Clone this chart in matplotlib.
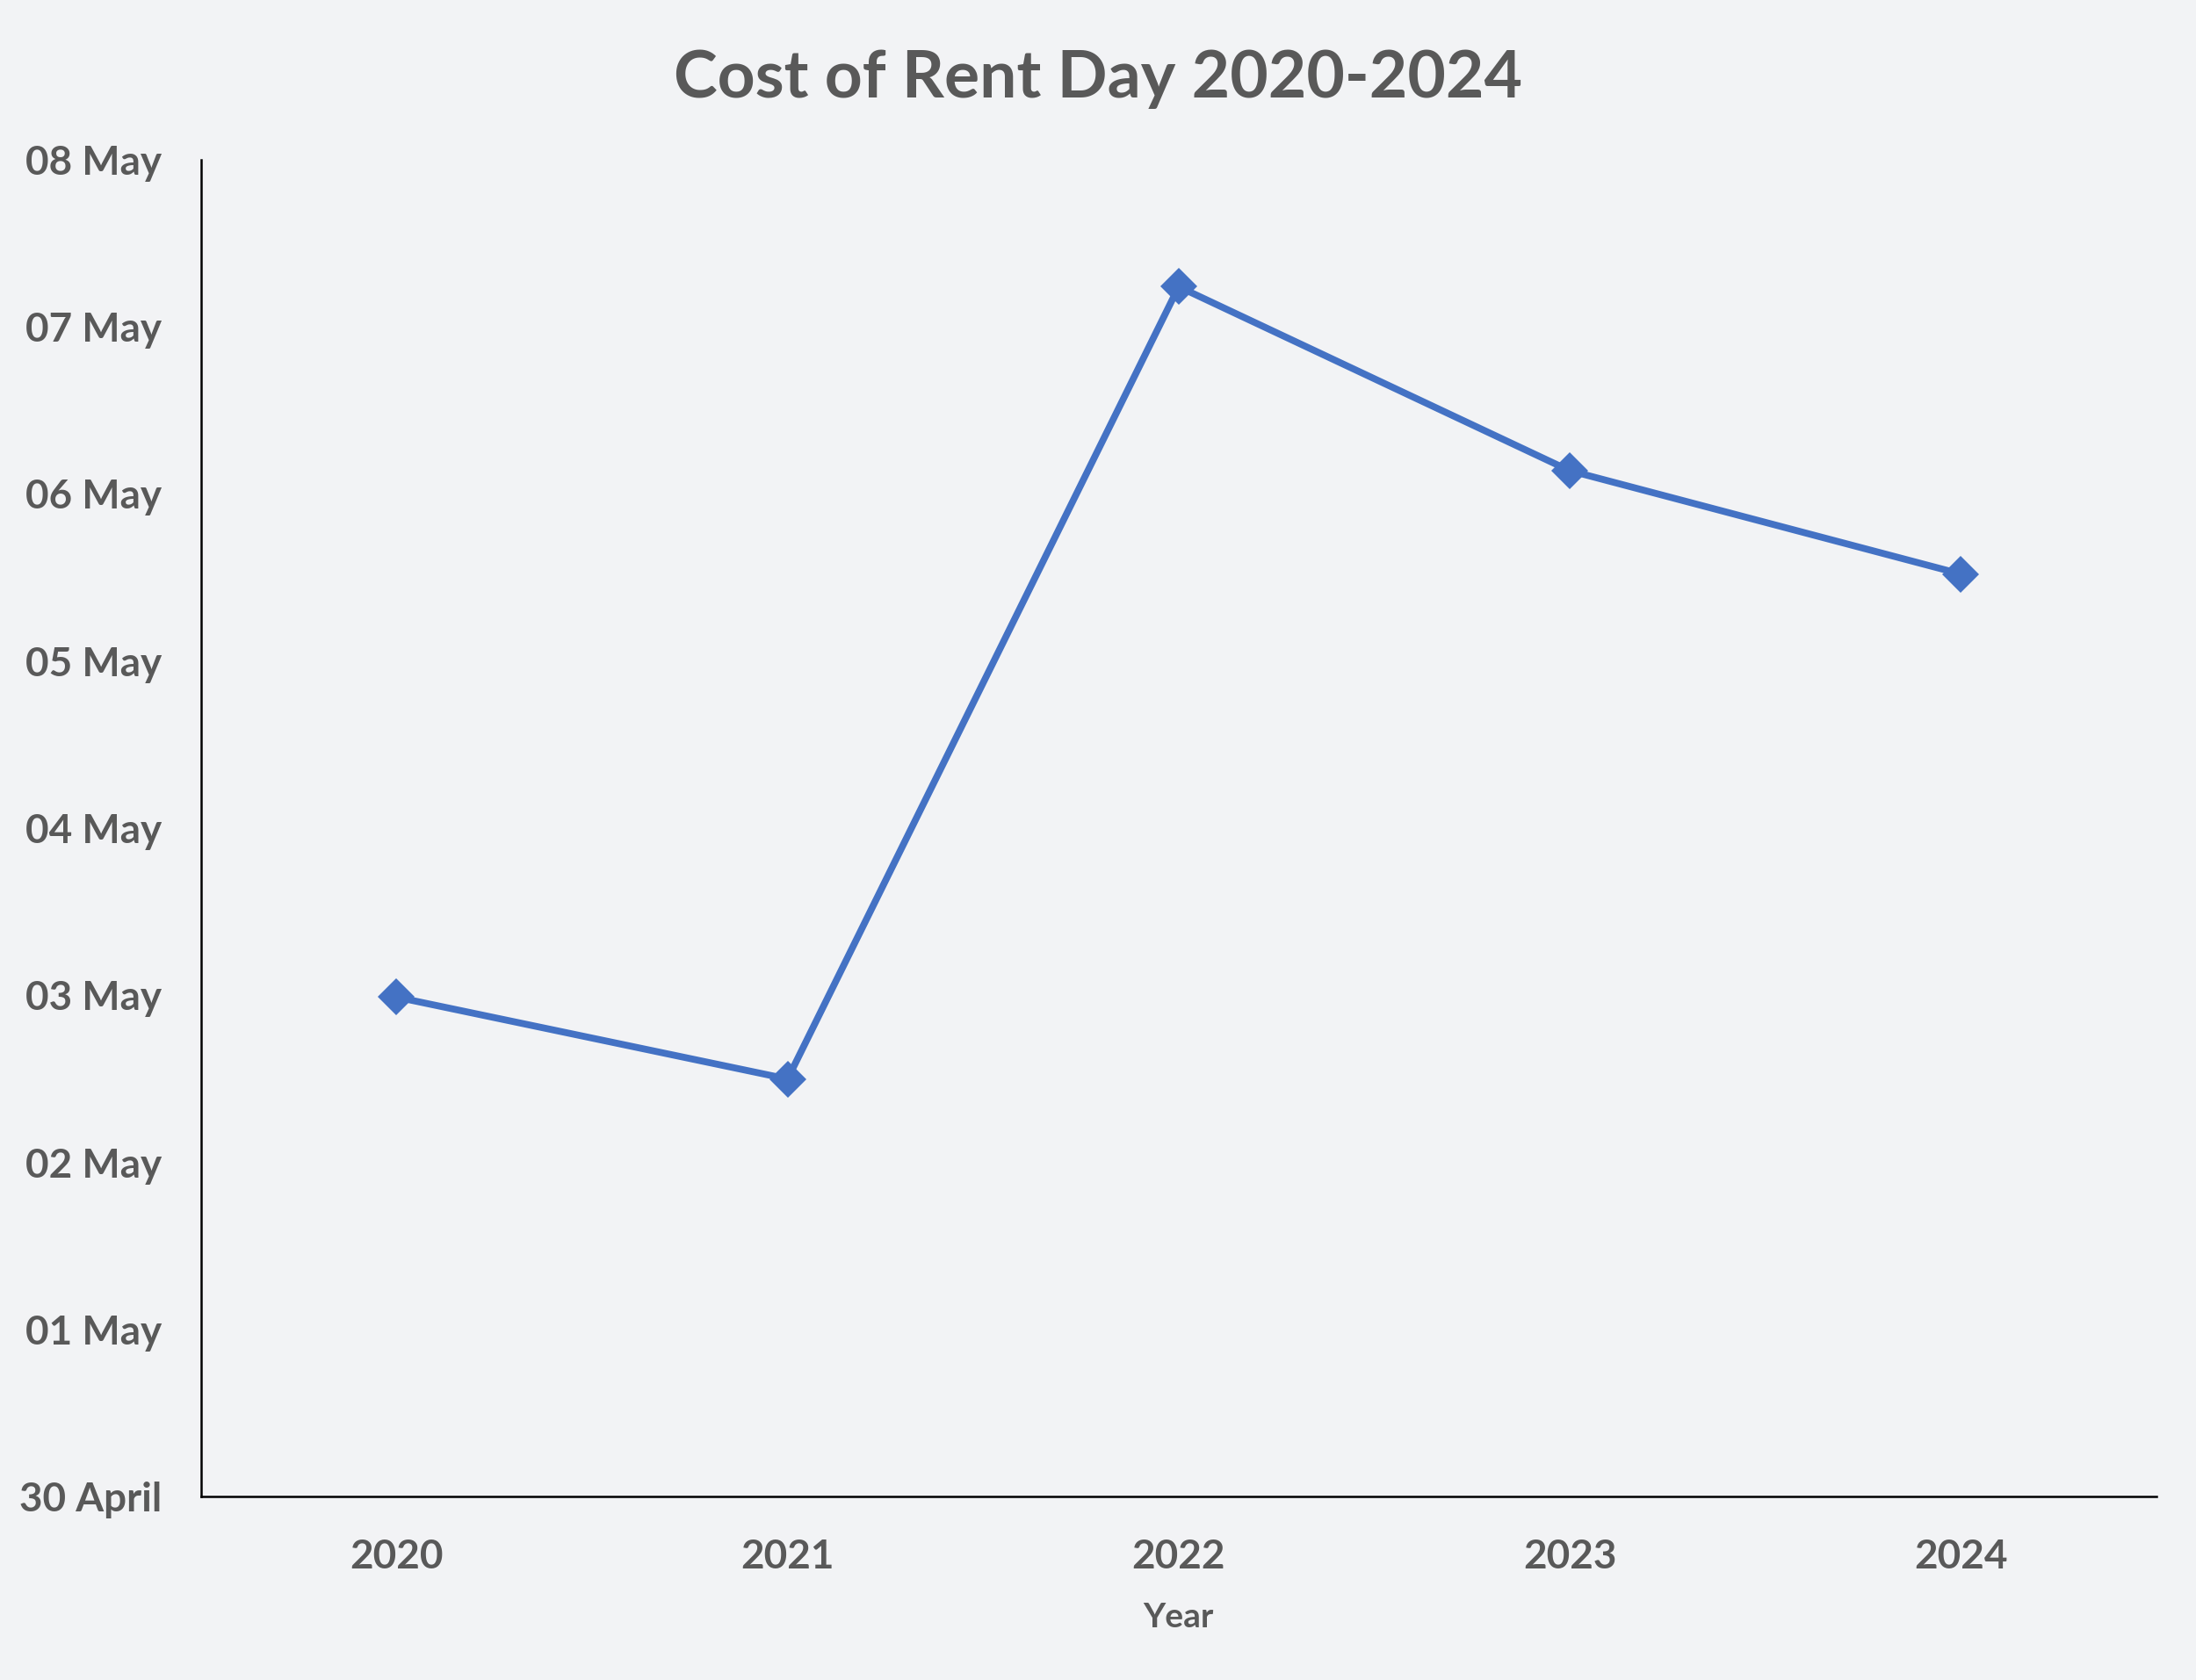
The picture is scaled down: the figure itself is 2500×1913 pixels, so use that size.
import matplotlib
matplotlib.use("Agg")
import matplotlib.pyplot as plt
import matplotlib.dates as mdates
import pandas as pd

# rent day per year, plotted on a common month/day axis
years = ["2020", "2021", "2022", "2023", "2024"]
rent_day = ["05-02 23:45", "05-02 12:00", "05-07 05:45", "05-06 03:20", "05-05 12:30"]
y_start = "04-30"
y_end = "05-08"

BASE_YEAR = "2000-"
rent_dt = pd.to_datetime([BASE_YEAR + d for d in rent_day])

BG = "#f2f3f5"
TEXT = "#595959"
LINE = "#4472c4"

plt.rcParams.update({
    "font.family": ["Lato", "DejaVu Sans"],
    "font.weight": "bold",
    "text.color": TEXT,
    "axes.labelcolor": TEXT,
    "xtick.color": TEXT,
    "ytick.color": TEXT,
})

fig = plt.figure(figsize=(12.5, 9.565), dpi=200, facecolor=BG)
ax = fig.add_axes([0.0915, 0.109, 0.8905, 0.796])
ax.set_facecolor(BG)

x = range(len(years))
ax.plot(x, rent_dt, color=LINE, lw=2.8, marker="D", ms=10.5, mew=0,
        solid_joinstyle="miter")

ax.set_xlim(-0.5, len(years) - 0.5)
ax.set_xticks(list(x))
ax.set_xticklabels(years)
ax.set_ylim(pd.Timestamp(BASE_YEAR + y_start), pd.Timestamp(BASE_YEAR + y_end))
ax.yaxis.set_major_locator(mdates.DayLocator())
ax.yaxis.set_major_formatter(mdates.DateFormatter("%d %B"))

ax.tick_params(axis="both", length=0, labelsize=16.5)
ax.tick_params(axis="x", pad=17)
ax.tick_params(axis="y", pad=16)
for lab in ax.get_xticklabels() + ax.get_yticklabels():
    lab.set_fontweight("bold")

for side in ["top", "right"]:
    ax.spines[side].set_visible(False)
for side in ["left", "bottom"]:
    ax.spines[side].set_color("black")
    ax.spines[side].set_linewidth(0.9)

ax.set_xlabel("Year", fontsize=14, fontweight="bold", labelpad=11)
fig.text(0.5, 0.942, "Cost of Rent Day 2020-2024", ha="center", va="baseline",
         fontsize=27, fontweight="bold", color=TEXT)

fig.savefig("out.png", dpi=200, facecolor=BG)
